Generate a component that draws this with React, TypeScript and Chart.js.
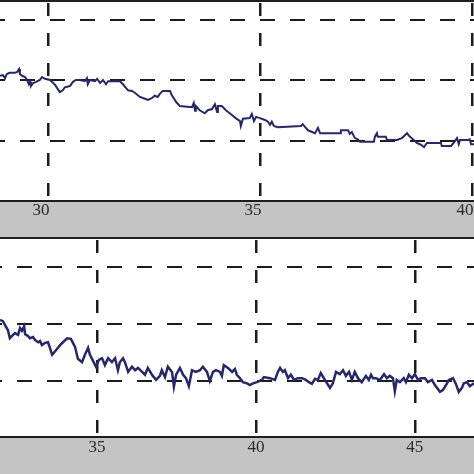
import React, { useEffect, useRef } from "react";
import { Chart, registerables } from "chart.js";

Chart.register(...registerables);

// ---------- Top panel data ----------
const topX = [
  28.87, 28.94, 28.99, 29.03, 29.10, 29.22, 29.27, 29.32, 29.34, 29.39, 29.46, 29.51, 29.55, 29.58, 29.60, 29.65,
  29.72, 29.81, 29.86, 29.93, 30.05, 30.17, 30.28, 30.35, 30.40, 30.52, 30.59, 30.66, 30.76, 30.87, 30.92, 30.94,
  30.99, 31.11, 31.16, 31.23, 31.30, 31.37, 31.42, 31.70, 31.77, 31.89, 31.98, 32.05, 32.17, 32.29, 32.36, 32.45,
  32.52, 32.59, 32.64, 32.71, 32.88, 32.92, 33.02, 33.11, 33.40, 33.44, 33.47, 33.49, 33.58, 33.70, 33.77, 33.87,
  33.94, 33.99, 34.01, 34.10, 34.20, 34.34, 34.43, 34.53, 34.55, 34.60, 34.76, 34.81, 34.86, 34.91, 35.00, 35.12,
  35.19, 35.24, 35.28, 35.33, 35.42, 35.97, 36.01, 36.13, 36.23, 36.30, 36.37, 36.42, 36.89, 36.91, 37.08, 37.12,
  37.17, 37.24, 37.31, 37.36, 37.69, 37.71, 37.76, 37.78, 37.97, 38.00, 38.23, 38.35, 38.47, 38.54, 38.63, 38.70,
  38.80, 38.87, 38.94, 39.27, 39.29, 39.51, 39.60, 39.65, 39.69, 39.72, 39.91, 39.95, 39.98, 40.05,
];
const topY = [
  2.07, 2.08, 2.03, 2.10, 2.12, 2.12, 2.13, 2.18, 2.10, 2.07, 2.05, 2.00, 1.93, 1.97, 1.90, 1.95,
  1.97, 2.00, 2.05, 2.02, 2.00, 1.92, 1.80, 1.83, 1.88, 1.90, 1.97, 2.00, 2.00, 1.98, 2.03, 1.93,
  2.00, 1.98, 2.02, 1.95, 2.00, 1.93, 1.98, 1.98, 1.93, 1.83, 1.82, 1.79, 1.72, 1.69, 1.67, 1.70,
  1.74, 1.72, 1.77, 1.82, 1.82, 1.75, 1.64, 1.57, 1.55, 1.62, 1.49, 1.57, 1.50, 1.45, 1.50, 1.52,
  1.60, 1.47, 1.57, 1.57, 1.50, 1.42, 1.37, 1.32, 1.24, 1.36, 1.37, 1.44, 1.32, 1.39, 1.37, 1.34,
  1.31, 1.26, 1.31, 1.24, 1.22, 1.24, 1.27, 1.17, 1.14, 1.12, 1.21, 1.12, 1.12, 1.17, 1.17, 1.11,
  1.14, 1.04, 1.02, 0.98, 0.98, 1.06, 1.12, 1.06, 1.06, 1.01, 1.01, 1.04, 1.12, 1.06, 1.01, 0.96,
  0.93, 0.89, 0.96, 0.96, 0.91, 0.91, 0.99, 1.04, 0.94, 1.01, 1.01, 1.02, 0.94, 0.94,
];
const topXTicks = [30, 35, 40];
const topYTicks = [1, 2, 3];
const topXMin = 28.87;
const topXMax = 40.05;
const topYMin = 0;
const topYMax = 3.306;

// ---------- Bottom panel data ----------
const botX = [
  31.95, 32.04, 32.11, 32.20, 32.26, 32.33, 32.42, 32.52, 32.58, 32.64, 32.71, 32.74, 32.83, 32.89, 32.99, 33.05,
  33.15, 33.21, 33.27, 33.37, 33.46, 33.52, 33.59, 33.71, 33.84, 33.93, 34.06, 34.18, 34.31, 34.40, 34.53, 34.62,
  34.72, 34.78, 34.88, 34.97, 35.06, 35.16, 35.25, 35.35, 35.47, 35.57, 35.66, 35.72, 35.82, 35.88, 35.98, 36.10,
  36.20, 36.29, 36.42, 36.51, 36.60, 36.73, 36.86, 36.98, 37.04, 37.14, 37.23, 37.36, 37.42, 37.49, 37.61, 37.71,
  37.80, 37.89, 37.99, 38.11, 38.24, 38.33, 38.46, 38.55, 38.65, 38.74, 38.87, 38.93, 38.99, 39.12, 39.25, 39.34,
  39.40, 39.50, 39.59, 39.72, 39.81, 39.91, 40.03, 40.19, 40.25, 40.44, 40.60, 40.69, 40.76, 40.85, 40.91, 41.01,
  41.10, 41.20, 41.32, 41.45, 41.57, 41.67, 41.76, 41.86, 41.95, 42.04, 42.17, 42.33, 42.42, 42.52, 42.64, 42.74,
  42.83, 42.93, 43.02, 43.11, 43.21, 43.33, 43.46, 43.55, 43.62, 43.68, 43.77, 43.90, 44.03, 44.12, 44.21, 44.31,
  44.37, 44.43, 44.53, 44.65, 44.72, 44.81, 44.91, 45.00, 45.10, 45.19, 45.32, 45.41, 45.54, 45.63, 45.79, 45.88,
  45.98, 46.07, 46.20, 46.29, 46.38, 46.48, 46.54, 46.64, 46.73, 46.86,
];
const botY = [
  2.07, 2.05, 1.98, 1.89, 1.75, 1.79, 1.84, 1.81, 1.93, 1.88, 1.96, 1.82, 1.79, 1.75, 1.77, 1.72,
  1.68, 1.70, 1.63, 1.67, 1.68, 1.58, 1.46, 1.54, 1.63, 1.68, 1.75, 1.74, 1.60, 1.39, 1.33, 1.46,
  1.58, 1.46, 1.35, 1.25, 1.37, 1.40, 1.28, 1.40, 1.33, 1.40, 1.19, 1.33, 1.40, 1.33, 1.16, 1.25,
  1.19, 1.23, 1.16, 1.11, 1.23, 1.11, 1.02, 1.09, 1.19, 1.07, 1.25, 1.16, 0.90, 1.11, 1.23, 1.11,
  1.05, 0.91, 1.19, 1.16, 1.19, 1.25, 1.16, 1.00, 1.16, 1.19, 1.16, 1.09, 1.28, 1.23, 1.16, 1.21,
  1.11, 1.05, 0.98, 0.96, 0.93, 0.96, 0.98, 1.02, 1.07, 1.05, 1.02, 1.16, 1.23, 1.16, 1.19, 1.05,
  1.11, 1.02, 1.05, 1.05, 1.02, 0.98, 0.95, 1.04, 1.02, 1.14, 1.02, 0.88, 0.96, 1.16, 1.12, 1.19,
  1.09, 1.16, 1.02, 1.16, 1.05, 0.98, 1.09, 1.02, 1.11, 1.05, 1.05, 1.02, 1.12, 1.05, 1.09, 1.05,
  0.82, 1.02, 0.98, 1.05, 0.98, 1.11, 1.05, 1.12, 1.02, 1.05, 1.05, 0.98, 1.02, 0.93, 0.81, 0.84,
  0.93, 1.02, 1.05, 0.95, 0.81, 0.88, 0.96, 0.98, 0.91, 0.96,
];
const botXTicks = [35, 40, 45];
const botYTicks = [1, 2, 3];
const botXMin = 31.95;
const botXMax = 46.86;
const botYMin = 0.018;
const botYMax = 3.509;

const LINE_COLOR = "#27276e";
const GRID_COLOR = "#1c1c1c";
const BG_GRAY = "#c4c4c4";

const framePlugin = {
  id: "frame",
  beforeDraw(chart: any) {
    const { ctx, chartArea } = chart;
    ctx.save();
    ctx.fillStyle = "#ffffff";
    ctx.fillRect(chartArea.left, chartArea.top, chartArea.right - chartArea.left, chartArea.bottom - chartArea.top);
    ctx.restore();
  },
  afterDraw(chart: any) {
    const { ctx, chartArea } = chart;
    ctx.save();
    ctx.strokeStyle = "#1e1e1e";
    ctx.lineWidth = 2;
    ctx.beginPath();
    ctx.moveTo(0, chartArea.top);
    ctx.lineTo(chart.width, chartArea.top);
    ctx.moveTo(0, chartArea.bottom);
    ctx.lineTo(chart.width, chartArea.bottom);
    ctx.stroke();
    ctx.restore();
  },
};

function makeConfig(
  xs: number[],
  ys: number[],
  xMin: number,
  xMax: number,
  yMin: number,
  yMax: number,
  xTicks: number[],
  yTicks: number[],
  axisHeight: number,
  padTop: number,
  labelOffset: number,
  labelPad: number,
  hDashOffset: number,
  lineW: number
): any {
  return {
    type: "line",
    data: {
      datasets: [
        {
          data: xs.map((x, i) => ({ x, y: ys[i] })),
          borderColor: LINE_COLOR,
          borderWidth: lineW,
          pointRadius: 0,
          tension: 0,
          fill: false,
        },
      ],
    },
    options: {
      animation: false,
      responsive: false,
      maintainAspectRatio: false,
      layout: { padding: { top: padTop, left: 0, right: 0, bottom: 0 } },
      plugins: { legend: { display: false }, tooltip: { enabled: false } },
      scales: {
        x: {
          type: "linear",
          min: xMin,
          max: xMax,
          afterBuildTicks: (s: any) => {
            s.ticks = xTicks.map((v) => ({ value: v }));
          },
          afterFit: (s: any) => {
            s.height = axisHeight;
            s.paddingLeft = 0;
            s.paddingRight = 0;
          },
          grid: { color: GRID_COLOR, lineWidth: 2.5, drawTicks: false },
          border: { display: false, dash: [13, 17], dashOffset: -2 },
          ticks: {
            padding: labelPad,
            labelOffset,
            maxRotation: 0,
            autoSkip: false,
            color: "#2a2a2a",
            font: { family: "Liberation Serif", size: 17 },
            callback: (v: any) => String(v),
          },
        },
        y: {
          type: "linear",
          min: yMin,
          max: yMax,
          afterBuildTicks: (s: any) => {
            s.ticks = yTicks.map((v) => ({ value: v }));
          },
          afterFit: (s: any) => {
            s.width = 0;
            s.paddingTop = 0;
            s.paddingBottom = 0;
          },
          grid: { color: GRID_COLOR, lineWidth: 2, drawTicks: false },
          border: { display: false, dash: [15, 15], dashOffset: hDashOffset },
          ticks: { display: false },
        },
      },
    },
    plugins: [framePlugin],
  };
}

function Panel(props: { cfg: any; top: number; height: number }) {
  const ref = useRef<HTMLCanvasElement | null>(null);
  useEffect(() => {
    if (!ref.current) return;
    const chart = new Chart(ref.current, props.cfg);
    return () => chart.destroy();
  }, []);
  return (
    <canvas
      ref={ref}
      width={474}
      height={props.height}
      style={{ position: "absolute", left: 0, top: props.top, width: 474, height: props.height, display: "block" }}
    />
  );
}

export default function App() {
  const topCfg = makeConfig(topX, topY, topXMin, topXMax, topYMin, topYMax, topXTicks, topYTicks, 36, 1, -7, -1, 10, 2);
  const botCfg = makeConfig(botX, botY, botXMin, botXMax, botYMin, botYMax, botXTicks, botYTicks, 37, 1, 0, 0, 13, 2.5);
  return (
    <div
      style={{
        position: "fixed",
        left: 0,
        top: 0,
        width: 474,
        height: 474,
        background: BG_GRAY,
        overflow: "hidden",
      }}
    >
      <Panel cfg={topCfg} top={0} height={237} />
      <Panel cfg={botCfg} top={237} height={237} />
    </div>
  );
}
